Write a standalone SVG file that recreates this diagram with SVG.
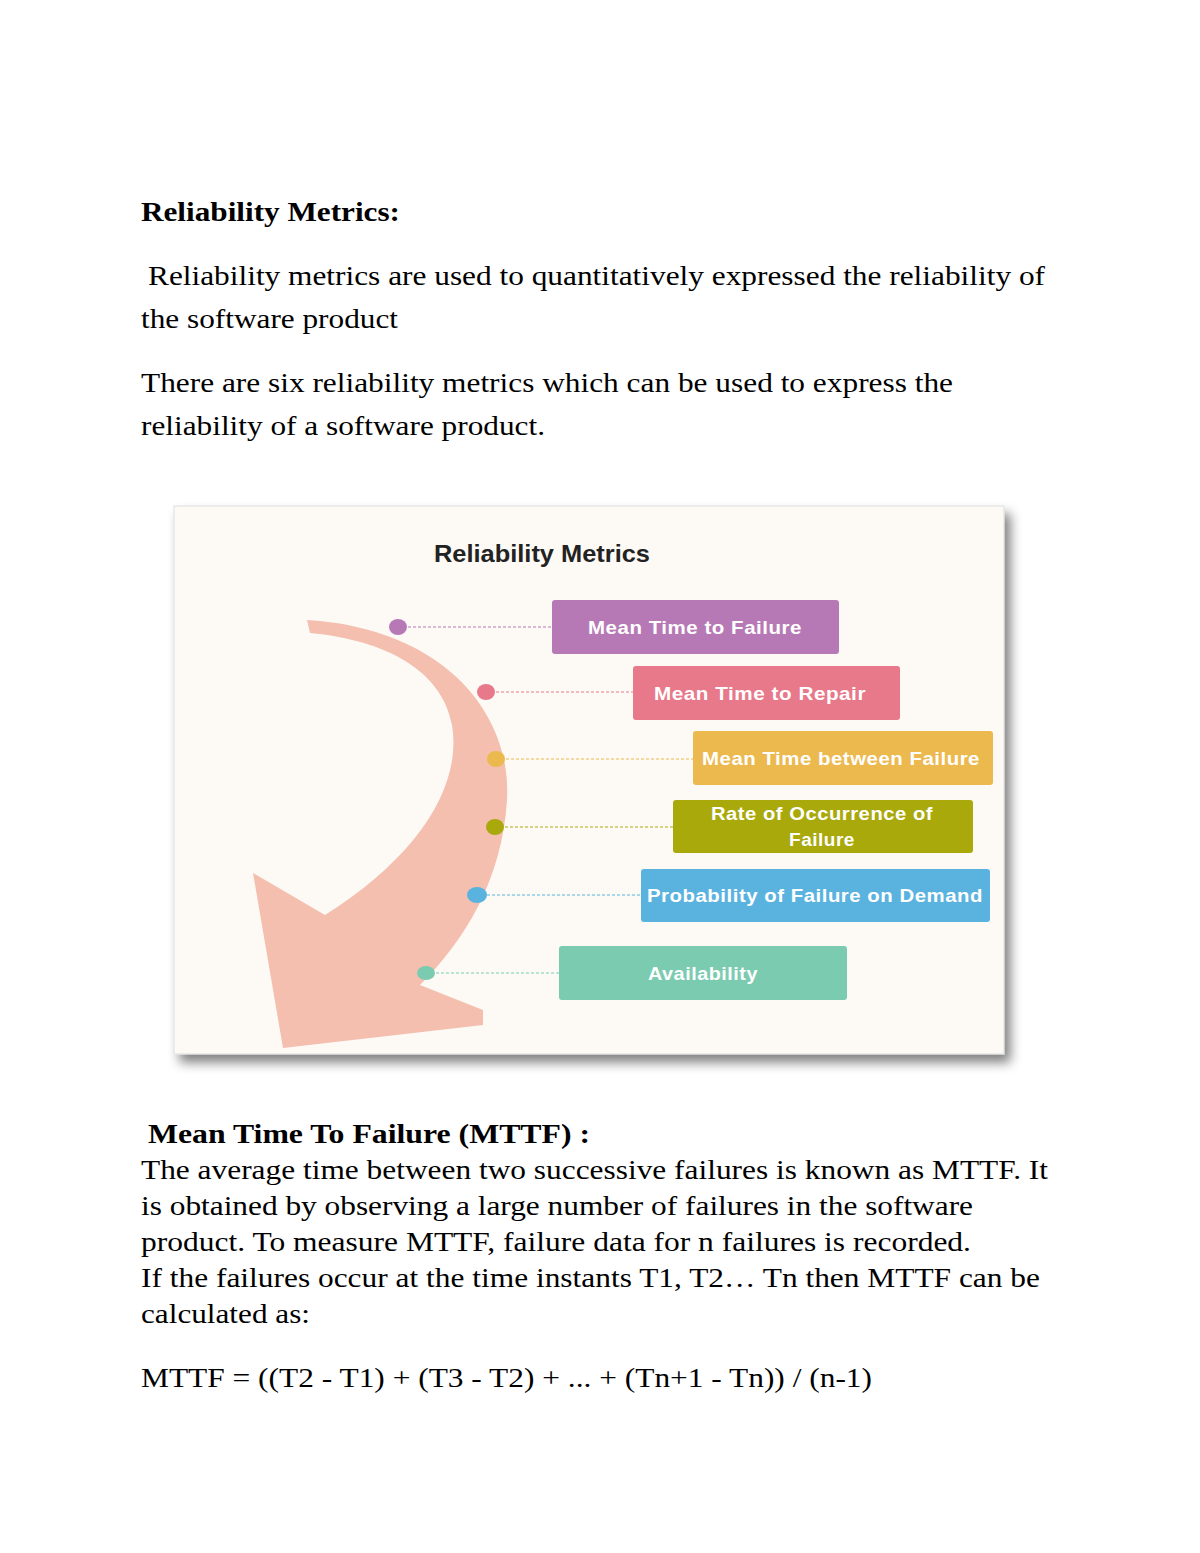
<svg xmlns="http://www.w3.org/2000/svg" width="1200" height="1553" viewBox="0 0 1200 1553">
<style>
.s{font-family:"Liberation Serif",serif;font-size:28px;fill:#000}
.b{font-weight:bold}
.n{font-family:"Liberation Sans",Arial,sans-serif;font-size:19px;font-weight:bold;fill:#fff;text-anchor:middle;letter-spacing:0.5px}
.c{stroke-width:1.2;stroke-dasharray:3 2;fill:none}
</style>
<defs><filter id="sh" x="-5%" y="-5%" width="115%" height="120%"><feGaussianBlur in="SourceAlpha" stdDeviation="6"/><feOffset dx="6" dy="8"/><feComponentTransfer><feFuncA type="linear" slope="0.5"/></feComponentTransfer><feMerge><feMergeNode/><feMergeNode in="SourceGraphic"/></feMerge></filter></defs>
<rect width="1200" height="1553" fill="#fff"/>
<text class="s b" x="141" y="221" textLength="259" lengthAdjust="spacingAndGlyphs">Reliability Metrics:</text>
<text class="s" x="148" y="285" textLength="897" lengthAdjust="spacingAndGlyphs">Reliability metrics are used to quantitatively expressed the reliability of</text>
<text class="s" x="141" y="328" textLength="257" lengthAdjust="spacingAndGlyphs">the software product</text>
<text class="s" x="141" y="392" textLength="812" lengthAdjust="spacingAndGlyphs">There are six reliability metrics which can be used to express the</text>
<text class="s" x="141" y="435" textLength="404" lengthAdjust="spacingAndGlyphs">reliability of a software product.</text>
<rect x="174" y="506" width="830" height="548" fill="#fdfaf6" stroke="#ddd" filter="url(#sh)"/>
<text x="434" y="562" font-family="Liberation Sans,Arial,sans-serif" font-size="24" font-weight="bold" fill="#222" textLength="216" lengthAdjust="spacingAndGlyphs">Reliability Metrics</text>
<path d="M307,620 C440,628 512,710 507,800 C502,880 465,940 420,985 L483,1010 L483,1025 L283,1048 L253,873 L325,915 C420,855 462,785 452,725 C442,670 385,640 310,633 Z" fill="#f4bfae"/>
<g id="connectors">
<line class="c" x1="398" y1="627" x2="552" y2="627" stroke="#b779b6"/>
<line class="c" x1="486" y1="692" x2="633" y2="692" stroke="#e8798a"/>
<line class="c" x1="496" y1="759" x2="693" y2="759" stroke="#ecb94f"/>
<line class="c" x1="495" y1="827" x2="673" y2="827" stroke="#a9a90c"/>
<line class="c" x1="477" y1="895" x2="641" y2="895" stroke="#5ab3df"/>
<line class="c" x1="426" y1="973" x2="559" y2="973" stroke="#7bcbb0"/>
</g>
<g id="n1"><ellipse cx="398" cy="627" rx="9" ry="8" fill="#b779b6"/><rect x="552" y="600" width="287" height="54" rx="3" fill="#b779b6"/><text class="n" x="695" y="634" textLength="214" lengthAdjust="spacingAndGlyphs">Mean Time to Failure</text></g>
<g id="n2"><ellipse cx="486" cy="692" rx="9" ry="8" fill="#e8798a"/><rect x="633" y="666" width="267" height="54" rx="3" fill="#e8798a"/><text class="n" x="760" y="700" textLength="212" lengthAdjust="spacingAndGlyphs">Mean Time to Repair</text></g>
<g id="n3"><ellipse cx="496" cy="759" rx="9" ry="8" fill="#ecb94f"/><rect x="693" y="731" width="300" height="54" rx="3" fill="#ecb94f"/><text class="n" x="841" y="765" textLength="278" lengthAdjust="spacingAndGlyphs">Mean Time between Failure</text></g>
<g id="n4"><ellipse cx="495" cy="827" rx="9" ry="8" fill="#a9a90c"/><rect x="673" y="800" width="300" height="53" rx="3" fill="#a9a90c"/><text class="n" x="822" y="820" textLength="222" lengthAdjust="spacingAndGlyphs">Rate of Occurrence of</text><text class="n" x="822" y="846">Failure</text></g>
<g id="n5"><ellipse cx="477" cy="895" rx="10" ry="8" fill="#5ab3df"/><rect x="641" y="869" width="349" height="53" rx="3" fill="#5ab3df"/><text class="n" x="815" y="902" textLength="336" lengthAdjust="spacingAndGlyphs">Probability of Failure on Demand</text></g>
<g id="n6"><ellipse cx="426" cy="973" rx="9" ry="7" fill="#7bcbb0"/><rect x="559" y="946" width="288" height="54" rx="3" fill="#7bcbb0"/><text class="n" x="703" y="980" textLength="110" lengthAdjust="spacingAndGlyphs">Availability</text></g>
<text class="s b" x="148" y="1143" textLength="442" lengthAdjust="spacingAndGlyphs">Mean Time To Failure (MTTF) :</text>
<text class="s" x="141" y="1179" textLength="907" lengthAdjust="spacingAndGlyphs">The average time between two successive failures is known as MTTF. It</text>
<text class="s" x="141" y="1215" textLength="832" lengthAdjust="spacingAndGlyphs">is obtained by observing a large number of failures in the software</text>
<text class="s" x="141" y="1251" textLength="830" lengthAdjust="spacingAndGlyphs">product. To measure MTTF, failure data for n failures is recorded.</text>
<text class="s" x="141" y="1287" textLength="899" lengthAdjust="spacingAndGlyphs">If the failures occur at the time instants T1, T2… Tn then MTTF can be</text>
<text class="s" x="141" y="1323" textLength="169" lengthAdjust="spacingAndGlyphs">calculated as:</text>
<text class="s" x="141" y="1387" textLength="731" lengthAdjust="spacingAndGlyphs">MTTF = ((T2 - T1) + (T3 - T2) + ... + (Tn+1 - Tn)) / (n-1)</text>
</svg>
